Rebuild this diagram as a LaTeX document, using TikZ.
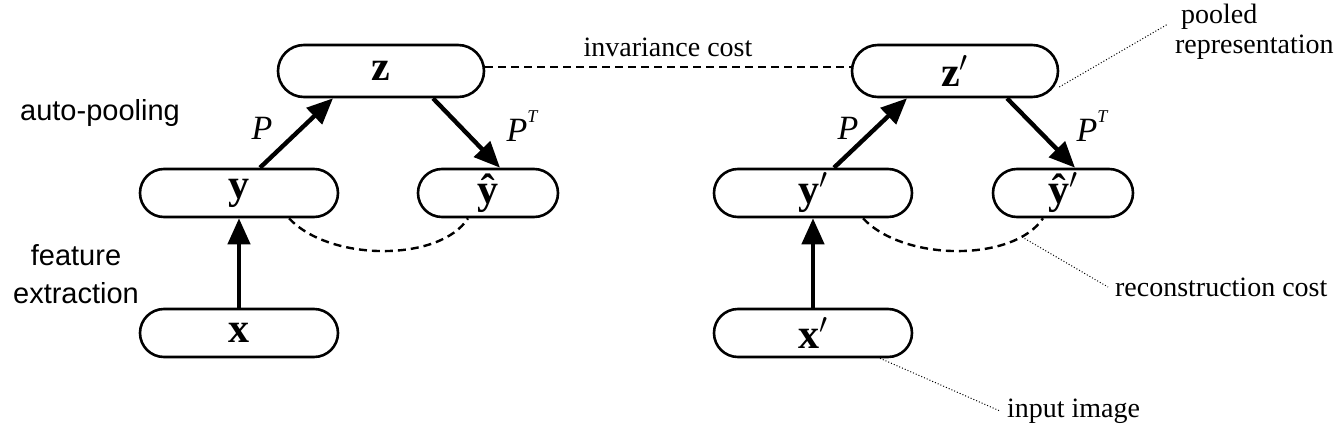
\documentclass[tikz,border=0pt]{standalone}
\usepackage{fontspec}
\setmainfont{Liberation Serif}
\newfontfamily\sidefont{Liberation Sans}
\usetikzlibrary{shapes.misc,arrows.meta}
\begin{document}
\begin{tikzpicture}[x=0.5pt,y=-0.5pt,
  box/.style={draw,line width=1.3pt,rounded rectangle,minimum height=24pt,font=\fontsize{21}{21}\selectfont\bfseries,inner sep=0pt},
  wide/.style={box,minimum width=99pt},
  narrow/.style={box,minimum width=70pt},
  zbox/.style={box,minimum width=103pt,minimum height=26pt},
  arr/.style={line width=2.2pt,-{Triangle[length=13pt,width=11pt]}},
  dsh/.style={line width=1.2pt,dash pattern=on 4pt off 2.5pt},
  dot/.style={densely dotted,line width=0.5pt},
  lbl/.style={font=\fontsize{17}{17}\selectfont\itshape},
  side/.style={font=\sidefont\fontsize{14.5}{19}\selectfont,align=center},
  note/.style={font=\fontsize{14}{15}\selectfont,align=center}]
\useasboundingbox (0,0) rectangle (1340,429);
\node[zbox] (z) at (381,71) {z};
\node[wide] (y) at (239,193) {y};
\node[narrow] (yh) at (488,193) {\^{y}};
\node[wide] (x) at (239,333) {x};
\node[zbox] (z2) at (955,71) {z$'$};
\node[wide] (y2) at (813,193) {y$'$};
\node[narrow] (yh2) at (1063,193) {\^{y}$'$};
\node[wide] (x2) at (813,333) {x$'$};
% arrows
\draw[arr] (x.north) -- (y.south);
\draw[arr] (x2.north) -- (y2.south);
\draw[arr] ([xshift=10.5pt]y.north) -- ([xshift=-24pt]z.south);
\draw[arr] ([xshift=26pt]z.south) -- ([xshift=6pt]yh.north);
\draw[arr] ([xshift=10.5pt]y2.north) -- ([xshift=-24pt]z2.south);
\draw[arr] ([xshift=26pt]z2.south) -- ([xshift=6pt]yh2.north);
\node[lbl] (p1) at (262,128) {P};
\node[lbl] (p2) at (522,126) {P\raisebox{1.2ex}{\fontsize{9}{9}\selectfont T}};
\node[lbl] (p3) at (848,128) {P};
\node[lbl] (p4) at (1092,126) {P\raisebox{1.2ex}{\fontsize{9}{9}\selectfont T}};
% costs
\draw[dsh] ([yshift=2pt]z.east) -- node[note,above=1pt] (inv) {invariance cost} ([yshift=2pt]z2.west);
\draw[dsh] ([xshift=25pt]y.south) .. controls (330,262) and (440,262) .. ([xshift=-10pt]yh.south);
\draw[dsh] ([xshift=25pt]y2.south) .. controls (904,262) and (1014,262) .. ([xshift=-10pt]yh2.south);
\coordinate (rc) at (1022,237);
\node[note,anchor=west] (rct) at (1108,287) {reconstruction cost};
\draw[dot] (rc) -- (rct.west);
\node[note,anchor=west] (inp) at (1000,411) {input image};
\draw[dot] ([xshift=-4pt]x2.south east) -- (inp.west);
\node[note,anchor=west,align=left] (pool) at (1168,32) {\hspace{3pt}pooled\\representation};
\draw[dot] ([yshift=-8pt]z2.east) -- ([yshift=4pt]pool.west);
% side labels
\node[side] (ap) at (100,113) {auto-pooling};
\node[side] (fe) at (76,274) {feature\\extraction};
\end{tikzpicture}
\end{document}
